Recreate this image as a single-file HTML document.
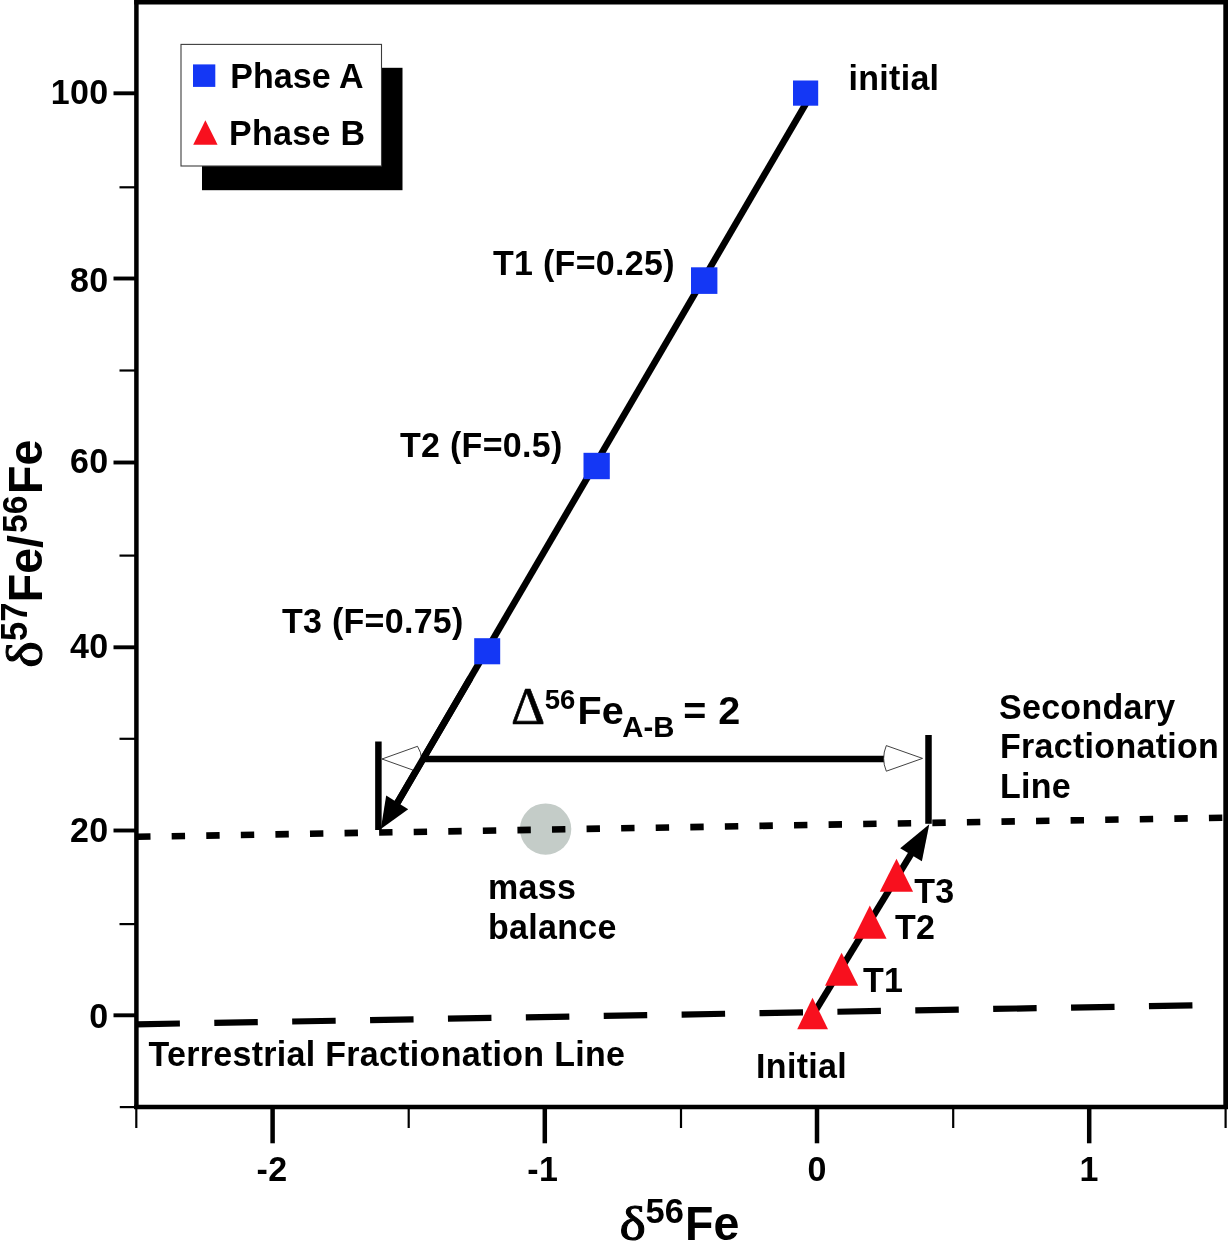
<!DOCTYPE html>
<html lang="en">
<head>
<meta charset="utf-8">
<title>Fe isotope fractionation diagram</title>
<style>
  html, body { margin: 0; padding: 0; background: #ffffff; }
  svg { display: block; }
  .b { font-family: "Liberation Sans", Arial, Helvetica, sans-serif; font-weight: 700; fill: #000; }
  .s { font-family: "Liberation Serif", "Times New Roman", serif; font-weight: 400; fill: #000; }
  .sb { font-family: "Liberation Serif", "Times New Roman", serif; font-weight: 700; fill: #000; }
  .t { font-size: 34px; letter-spacing: 0.3px; }
</style>
</head>
<body>
<svg width="1228" height="1242" viewBox="0 0 1228 1242">
  <rect x="0" y="0" width="1228" height="1242" fill="#ffffff"/>

  <!-- legend -->
  <g id="legend">
    <rect x="202" y="67.8" width="200.5" height="122.4" fill="#000"/>
    <rect x="181" y="44.4" width="200.5" height="121.6" fill="#fff" stroke="#3c3c3c" stroke-width="1.1"/>
    <rect x="193" y="64.4" width="22.3" height="22.5" fill="#1437f5"/>
    <polygon points="205.4,120.3 217.6,144.8 193.2,144.8" fill="#f8101e"/>
    <text class="b t" transform="translate(0,87.5) scale(1,1.03)" x="230.2" y="0" style="letter-spacing:0.1px">Phase A</text>
    <text class="b t" transform="translate(0,145) scale(1,1.03)" x="229.1" y="0">Phase B</text>
  </g>

  <!-- secondary fractionation (dotted) and terrestrial fractionation (dashed) lines -->
  <circle cx="545.6" cy="829.1" r="25.7" fill="#c4ccc8"/>
  <line x1="137.1" y1="836.8" x2="1225" y2="817.7" stroke="#000" stroke-width="6.6" stroke-dasharray="13.4 21.18"/>
  <line x1="136.4" y1="1024.3" x2="1225" y2="1004.8" stroke="#000" stroke-width="6.2" stroke-dasharray="43.5 34.4"/>

  <!-- frame + axes -->
  <g id="frame" stroke="#000" fill="none">
    <line x1="134.2" y1="2.3" x2="1228" y2="2.3" stroke-width="4.6"/>
    <line x1="136.4" y1="0" x2="136.4" y2="1109" stroke-width="4.5"/>
    <line x1="1225.7" y1="0" x2="1225.7" y2="1109" stroke-width="4.8"/>
    <line x1="134.2" y1="1107" x2="1228" y2="1107" stroke-width="4.4"/>
  </g>

  <!-- y ticks -->
  <g id="yticks" stroke="#000">
    <g stroke-width="3.9">
      <line x1="113.5" y1="93.3" x2="137" y2="93.3"/>
      <line x1="113.5" y1="278.5" x2="137" y2="278.5"/>
      <line x1="113.5" y1="462.5" x2="137" y2="462.5"/>
      <line x1="113.5" y1="647.3" x2="137" y2="647.3"/>
      <line x1="113.5" y1="830.5" x2="137" y2="830.5"/>
      <line x1="113.5" y1="1015.3" x2="137" y2="1015.3"/>
    </g>
    <g stroke-width="2.2">
      <line x1="119.5" y1="187.3" x2="137" y2="187.3"/>
      <line x1="119.5" y1="370.5" x2="137" y2="370.5"/>
      <line x1="119.5" y1="555.6" x2="137" y2="555.6"/>
      <line x1="119.5" y1="738.8" x2="137" y2="738.8"/>
      <line x1="119.5" y1="924.1" x2="137" y2="924.1"/>
      <line x1="119.8" y1="1107.1" x2="137" y2="1107.1"/>
    </g>
  </g>

  <!-- x ticks -->
  <g id="xticks" stroke="#000">
    <g stroke-width="4.5">
      <line x1="272.6" y1="1107" x2="272.6" y2="1143.3"/>
      <line x1="544.8" y1="1107" x2="544.8" y2="1143.3"/>
      <line x1="817" y1="1107" x2="817" y2="1143.3"/>
      <line x1="1089.2" y1="1107" x2="1089.2" y2="1143.3"/>
    </g>
    <g stroke-width="2.2">
      <line x1="136.3" y1="1107" x2="136.3" y2="1128"/>
      <line x1="408.7" y1="1107" x2="408.7" y2="1128"/>
      <line x1="681" y1="1107" x2="681" y2="1128"/>
      <line x1="953.2" y1="1107" x2="953.2" y2="1128"/>
      <line x1="1225.6" y1="1107" x2="1225.6" y2="1128"/>
    </g>
  </g>

  <!-- tick labels -->
  <g class="b t" text-anchor="end">
    <text transform="translate(0,104) scale(1,1.03)" x="108.5" y="0">100</text>
    <text transform="translate(0,292) scale(1,1.03)" x="108.5" y="0">80</text>
    <text transform="translate(0,473.3) scale(1,1.03)" x="108.5" y="0">60</text>
    <text transform="translate(0,658) scale(1,1.03)" x="108.5" y="0">40</text>
    <text transform="translate(0,842) scale(1,1.03)" x="108.5" y="0">20</text>
    <text transform="translate(0,1028.4) scale(1,1.03)" x="108.5" y="0">0</text>
  </g>
  <g class="b t" text-anchor="middle">
    <text transform="translate(0,1180.5) scale(1,1.03)" x="272" y="0">-2</text>
    <text transform="translate(0,1180.5) scale(1,1.03)" x="542.7" y="0">-1</text>
    <text transform="translate(0,1180.5) scale(1,1.03)" x="817" y="0">0</text>
    <text transform="translate(0,1180.5) scale(1,1.03)" x="1089" y="0">1</text>
  </g>

  <!-- Phase A trajectory -->
  <line x1="808.3" y1="99.5" x2="397.3" y2="803" stroke="#000" stroke-width="6.6"/>
  <polygon points="380.8,828.9 386.2,795.6 408.2,809.2" fill="#000"/>
  <g fill="#1437f5">
    <rect x="793" y="80.5" width="25.2" height="25.2"/>
    <rect x="691" y="267.3" width="26.4" height="26.6"/>
    <rect x="583.5" y="452.8" width="26.3" height="26.4"/>
    <rect x="474.2" y="638.2" width="26" height="26.1"/>
  </g>

  <!-- Delta arrow -->
  <line x1="378.4" y1="741.5" x2="378.4" y2="830" stroke="#000" stroke-width="6.5"/>
  <line x1="928.5" y1="735" x2="928.5" y2="823.8" stroke="#000" stroke-width="6.5"/>
  <path d="M382,759 L417.5,746.3 Q425.5,759 417.5,771.7 Z" fill="#fff" stroke="#111" stroke-width="0.8"/>
  <line x1="421" y1="759" x2="884.5" y2="759" stroke="#000" stroke-width="6.4"/>
  <path d="M922.5,758.4 L886.3,745.6 Q881,758.4 886.3,771.2 Z" fill="#fff" stroke="#111" stroke-width="0.8"/>
  <!-- redraw Phase A line over the left open arrowhead -->
  <line x1="470.3" y1="678.05" x2="397.3" y2="803" stroke="#000" stroke-width="6.6"/>

  <!-- Phase B trajectory -->
  <line x1="812.8" y1="1015" x2="912.3" y2="852" stroke="#000" stroke-width="6.6"/>
  <polygon points="929.3,824.2 900.2,848.3 921.9,861.2" fill="#000"/>
  <g fill="#f8101e">
    <polygon points="812.5,997.8 828,1029.2 797.2,1029.2"/>
    <polygon points="841.6,952.8 858.1,985.7 825,985.7"/>
    <polygon points="869.8,905.6 886.6,938.8 853.2,938.8"/>
    <polygon points="896.5,858.7 913.1,891.8 879.8,891.8"/>
  </g>

  <!-- labels -->
  <g class="b t">
    <text transform="translate(0,90) scale(1,1.03)" x="848.5" y="0">initial</text>
    <text transform="translate(0,275) scale(1,1.03)" x="493" y="0">T1 (F=0.25)</text>
    <text transform="translate(0,457) scale(1,1.03)" x="400" y="0">T2 (F=0.5)</text>
    <text transform="translate(0,633) scale(1,1.03)" x="281.9" y="0">T3 (F=0.75)</text>
    <text transform="translate(0,718.8) scale(1,1.03)" x="999" y="0">Secondary</text>
    <text transform="translate(0,757.7) scale(1,1.03)" x="1000" y="0">Fractionation</text>
    <text transform="translate(0,797.5) scale(1,1.03)" x="1000" y="0">Line</text>
    <text transform="translate(0,899.4) scale(1,1.03)" x="488" y="0">mass</text>
    <text transform="translate(0,938.8) scale(1,1.03)" x="488" y="0">balance</text>
    <text transform="translate(0,902.5) scale(1,1.03)" x="914.3" y="0">T3</text>
    <text transform="translate(0,939.2) scale(1,1.03)" x="895" y="0">T2</text>
    <text transform="translate(0,991.6) scale(1,1.03)" x="863" y="0">T1</text>
    <text transform="translate(0,1077.9) scale(1,1.03)" x="756.1" y="0">Initial</text>
    <text transform="translate(0,1066) scale(1,1.03)" x="148.5" y="0">Terrestrial Fractionation Line</text>
  </g>

  <!-- Delta label -->
  <text class="s" x="511" y="724" font-size="53" stroke="#000" stroke-width="0.6">Δ</text>
  <text class="b" x="544.8" y="708.8" font-size="27.5">56</text>
  <text class="b" x="577.5" y="724" font-size="39.5">Fe</text>
  <text class="b" x="622.3" y="737.2" font-size="29.3">A-B</text>
  <text class="b" x="683.3" y="724" font-size="39.5" letter-spacing="0.5">= 2</text>

  <!-- x axis title -->
  <text class="s" transform="translate(619.6,1240) scale(1.13,1)" x="0" y="0" font-size="49.5" stroke="#000" stroke-width="1">δ</text>
  <text class="b" x="645.5" y="1223.2" font-size="34.5">56</text>
  <g transform="translate(0,1240.2) scale(1,1.05)">
    <text class="b" x="685" y="0" font-size="46.5">Fe</text>
  </g>

  <!-- y axis title -->
  <text class="s" transform="translate(42,667) rotate(-90) scale(1.1,1)" x="-0.6" y="0" font-size="51" stroke="#000" stroke-width="1">δ</text>
  <g transform="translate(42,667) rotate(-90) scale(1,1.05)">
    <text class="b" x="26" y="-14.6" font-size="34.5">57</text>
    <text class="b" x="64.8" y="0" font-size="46.5">Fe</text>
    <text class="b" x="119" y="0" font-size="46.5">/</text>
    <text class="b" x="134" y="-14.6" font-size="33.8">56</text>
    <text class="b" x="173" y="0" font-size="46.5">Fe</text>
  </g>
</svg>
</body>
</html>
